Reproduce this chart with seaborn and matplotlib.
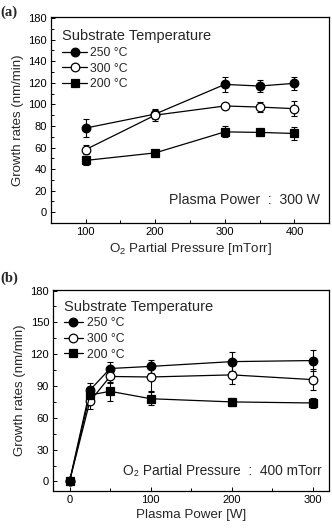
import numpy as np
import pandas as pd
import matplotlib
matplotlib.use("Agg")
import matplotlib.pyplot as plt
from matplotlib.ticker import MultipleLocator
import seaborn as sns

# ---- data panel (a) ----
pressure = [100, 200, 300, 350, 400]
a_250 = [78, 91, 118.5, 117, 119.5]
a_250_err = [8, 5, 7, 6, 6]
a_300 = [58, 90, 98.5, 97.5, 96]
a_300_err = [4, 5, 3, 5, 7]
a_200 = [48, 55, 74.5, 74, 73]
a_200_err = [4, 2, 5, 3, 6]

# ---- data panel (b) ----
power = [0, 25, 50, 100, 200, 300]
b_250 = [0, 86, 106.5, 108.5, 113, 114]
b_250_err = [0, 7, 6, 6, 9, 10]
b_300 = [0, 75.5, 99, 98.5, 100.5, 96]
b_300_err = [0, 7, 6, 13, 9, 10]
b_200 = [0, 81.5, 85, 78, 75, 74]
b_200_err = [0, 6, 9, 6, 4, 5]

labels = ["250 \u00b0C", "300 \u00b0C", "200 \u00b0C"]

sns.set_style("ticks")
plt.rcParams['font.family'] = ['Liberation Sans', 'DejaVu Sans']
plt.rcParams['mathtext.fontset'] = 'custom'
plt.rcParams['mathtext.rm'] = 'Liberation Sans'
plt.rcParams['mathtext.it'] = 'Liberation Sans'

W, H = 332, 530
fig = plt.figure(figsize=(W / 100, H / 100), dpi=100)


def ax_rect(l, r, t, b):
    return [l / W, 1 - b / H, (r - l) / W, (b - t) / H]


ax_a = fig.add_axes(ax_rect(50.7, 329.3, 17, 223))
ax_b = fig.add_axes(ax_rect(53.3, 329.3, 289.5, 491))

styles = [dict(marker='o', mfc='black'), dict(marker='o', mfc='white'), dict(marker='s', mfc='black')]


def draw(ax, x, series, errs):
    for (y, e, lab, st) in zip(series, errs, labels, styles):
        df = pd.DataFrame({"x": x, "y": y})
        ax.errorbar(x, y, yerr=e, fmt='none', ecolor='black', elinewidth=0.8,
                    capsize=2.2, capthick=0.8, zorder=2)
        sns.lineplot(data=df, x="x", y="y", ax=ax, color='black', linewidth=0.9,
                     marker=st['marker'], markerfacecolor=st['mfc'], markeredgecolor='black',
                     markeredgewidth=0.9, markersize=6.2 if st['marker'] == 'o' else 5.5,
                     label=lab, zorder=3)


draw(ax_a, pressure, [a_250, a_300, a_200], [a_250_err, a_300_err, a_200_err])
draw(ax_b, power, [b_250, b_300, b_200], [b_250_err, b_300_err, b_200_err])

tick_fs = 8
for ax in (ax_a, ax_b):
    ax.tick_params(direction='in', which='both', labelsize=tick_fs, length=3, width=0.7,
                   colors='black', pad=3)
    ax.tick_params(which='minor', length=2)
    for s in ax.spines.values():
        s.set_linewidth(0.9)
        s.set_color('black')
    ax.set_ylabel("Growth rates (nm/min)", fontsize=9.5, labelpad=3)

ax_a.set_xlim(50, 450)
ax_a.set_ylim(-10, 181)
ax_a.set_xticks([100, 200, 300, 400])
ax_a.xaxis.set_minor_locator(MultipleLocator(50))
ax_a.set_yticks(np.arange(0, 181, 20))
ax_a.yaxis.set_minor_locator(MultipleLocator(10))
ax_a.set_xlabel("O$_2$ Partial Pressure [mTorr]", fontsize=9.6, labelpad=3)

ax_b.set_xlim(-20, 320)
ax_b.set_ylim(-9, 181)
ax_b.set_xticks([0, 100, 200, 300])
ax_b.xaxis.set_minor_locator(MultipleLocator(50))
ax_b.set_yticks(np.arange(0, 181, 30))
ax_b.yaxis.set_minor_locator(MultipleLocator(15))
ax_b.set_xlabel("Plasma Power [W]", fontsize=9.6, labelpad=3)

for ax, anchor, hl in ((ax_a, (0.02, 0.97), 2.0), (ax_b, (0.015, 0.98), 1.6)):
    leg = ax.legend(loc='upper left', bbox_to_anchor=anchor, frameon=False,
                    title="Substrate Temperature", title_fontsize=10.5, fontsize=8.8,
                    handlelength=hl, handletextpad=0.3, labelspacing=0.3,
                    borderpad=0.3, borderaxespad=0.2, alignment='left')

ax_a.text(0.967, 0.112, "Plasma Power  :  300 W", transform=ax_a.transAxes,
          ha='right', va='center', fontsize=10.2)
ax_b.text(0.972, 0.10, "O\u2082 Partial Pressure  :  400 mTorr", transform=ax_b.transAxes,
          ha='right', va='center', fontsize=9.9)

fig.text(0.0, 1 - 12 / H, "(a)", fontsize=10.5, fontweight='bold',
         family=['Liberation Serif', 'DejaVu Serif'], ha='left', va='center')
fig.text(0.0, 1 - 278 / H, "(b)", fontsize=10.5, fontweight='bold',
         family=['Liberation Serif', 'DejaVu Serif'], ha='left', va='center')

fig.savefig("out.png", dpi=100)
